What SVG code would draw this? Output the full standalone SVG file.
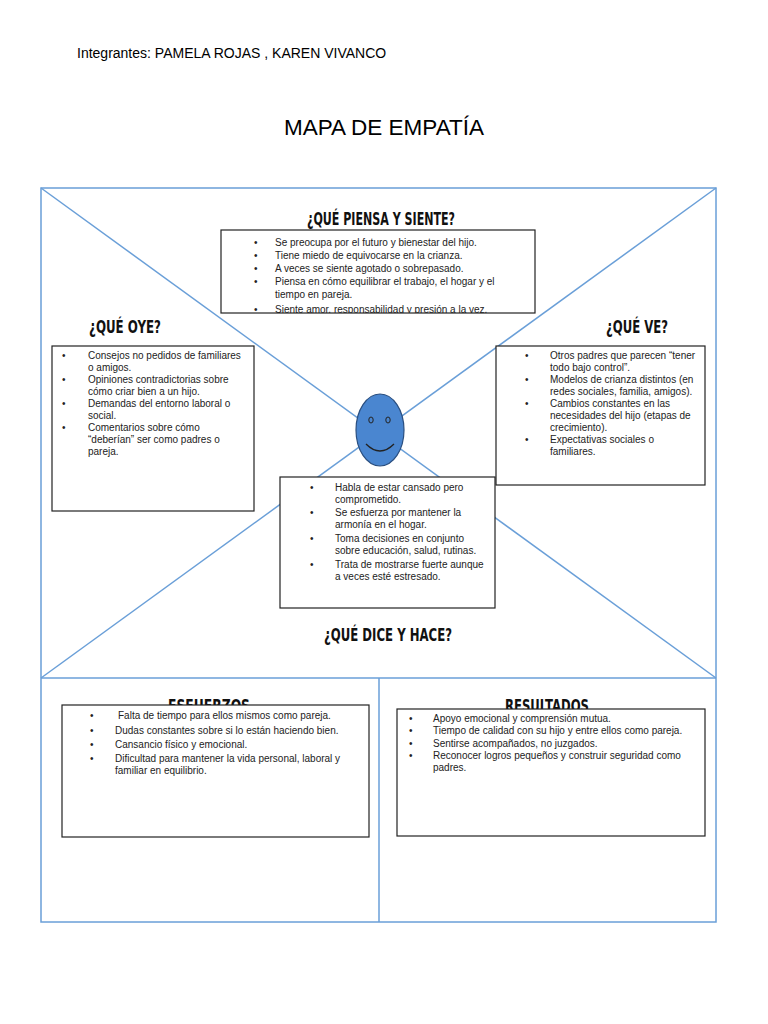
<svg xmlns="http://www.w3.org/2000/svg" width="768" height="1024" viewBox="0 0 768 1024">
<style>
.t{font-family:"Liberation Sans",Arial,sans-serif;fill:#000}
.h{font-family:"DejaVu Sans Condensed","Liberation Sans",sans-serif;font-weight:bold;font-size:18px;fill:#111}
.s{font-family:"Liberation Sans",Arial,sans-serif;font-size:10px;fill:#222}
.b{fill:#fff;stroke:#222;stroke-width:1.2}
.l{stroke:#6a9fd8;stroke-width:1.5;fill:none}
</style>
<defs>
<clipPath id="c1"><rect x="100" y="690" width="220" height="15"/></clipPath>
<clipPath id="c2"><rect x="480" y="690" width="140" height="19"/></clipPath>
</defs>
<rect width="768" height="1024" fill="#fff"/>
<text class="t" x="77" y="58" font-size="14">Integrantes: PAMELA ROJAS , KAREN VIVANCO</text>
<text class="t" x="384" y="135" font-size="22.5" text-anchor="middle">MAPA DE EMPATÍA</text>
<g id="connectors">
<rect class="l" x="41" y="188" width="675" height="734"/>
<line class="l" x1="41" y1="678" x2="716" y2="678"/>
<line class="l" x1="379" y1="678" x2="379" y2="922"/>
<line class="l" x1="41" y1="188" x2="716" y2="678"/>
<line class="l" x1="716" y1="188" x2="41" y2="678"/>
</g>
<g id="headers">
<text class="h" x="381" y="225" text-anchor="middle" textLength="148" lengthAdjust="spacingAndGlyphs">¿QUÉ PIENSA Y SIENTE?</text>
<text class="h" x="125" y="333" text-anchor="middle" textLength="72" lengthAdjust="spacingAndGlyphs">¿QUÉ OYE?</text>
<text class="h" x="637" y="333" text-anchor="middle" textLength="62" lengthAdjust="spacingAndGlyphs">¿QUÉ VE?</text>
<text class="h" x="388" y="641" text-anchor="middle" textLength="128" lengthAdjust="spacingAndGlyphs">¿QUÉ DICE Y HACE?</text>
<text class="h" x="209" y="712" clip-path="url(#c1)" text-anchor="middle" textLength="82" lengthAdjust="spacingAndGlyphs">ESFUERZOS</text>
<text class="h" x="547" y="712" clip-path="url(#c2)" text-anchor="middle" textLength="84" lengthAdjust="spacingAndGlyphs">RESULTADOS</text>
</g>
<g id="face">
<ellipse cx="380" cy="430" rx="24" ry="36" fill="#4a86d0" stroke="#2a4f80" stroke-width="1.2"/>
<ellipse cx="371" cy="420" rx="2.2" ry="3" fill="none" stroke="#222"/>
<ellipse cx="388" cy="420" rx="2.2" ry="3" fill="none" stroke="#222"/>
<path d="M366 444 Q380 458 394 444" fill="none" stroke="#222" stroke-width="1.3"/>
</g>
<g id="piensa">
<rect class="b" x="221" y="230" width="314" height="83"/>
<svg x="221" y="230" width="314" height="83">
<g class="s">
<text x="33" y="16">•</text><text x="54" y="16">Se preocupa por el futuro y bienestar del hijo.</text>
<text x="33" y="29">•</text><text x="54" y="29">Tiene miedo de equivocarse en la crianza.</text>
<text x="33" y="42">•</text><text x="54" y="42">A veces se siente agotado o sobrepasado.</text>
<text x="33" y="55">•</text><text x="54" y="55">Piensa en cómo equilibrar el trabajo, el hogar y el</text>
<text x="54" y="68">tiempo en pareja.</text>
<text x="33" y="83">•</text><text x="54" y="83">Siente amor, responsabilidad y presión a la vez.</text>
</g></svg>
</g>
<g id="oye">
<rect class="b" x="52" y="346" width="202" height="165"/>
<g class="s">
<text x="62" y="359">•</text><text x="88" y="359">Consejos no pedidos de familiares</text>
<text x="88" y="371">o amigos.</text>
<text x="62" y="383">•</text><text x="88" y="383">Opiniones contradictorias sobre</text>
<text x="88" y="395">cómo criar bien a un hijo.</text>
<text x="62" y="407">•</text><text x="88" y="407">Demandas del entorno laboral o</text>
<text x="88" y="419">social.</text>
<text x="62" y="431">•</text><text x="88" y="431">Comentarios sobre cómo</text>
<text x="88" y="443">“deberían” ser como padres o</text>
<text x="88" y="455">pareja.</text>
</g>
</g>
<g id="ve">
<rect class="b" x="496" y="346" width="209" height="139"/>
<g class="s">
<text x="525" y="359">•</text><text x="550" y="359">Otros padres que parecen “tener</text>
<text x="550" y="371">todo bajo control”.</text>
<text x="525" y="383">•</text><text x="550" y="383">Modelos de crianza distintos (en</text>
<text x="550" y="395">redes sociales, familia, amigos).</text>
<text x="525" y="407">•</text><text x="550" y="407">Cambios constantes en las</text>
<text x="550" y="419">necesidades del hijo (etapas de</text>
<text x="550" y="431">crecimiento).</text>
<text x="525" y="443">•</text><text x="550" y="443">Expectativas sociales o</text>
<text x="550" y="455">familiares.</text>
</g>
</g>
<g id="dice">
<rect class="b" x="280" y="477" width="215" height="131"/>
<g class="s">
<text x="310" y="491">•</text><text x="335" y="491">Habla de estar cansado pero</text>
<text x="335" y="503">comprometido.</text>
<text x="310" y="516">•</text><text x="335" y="516">Se esfuerza por mantener la</text>
<text x="335" y="528">armonía en el hogar.</text>
<text x="310" y="542">•</text><text x="335" y="542">Toma decisiones en conjunto</text>
<text x="335" y="554">sobre educación, salud, rutinas.</text>
<text x="310" y="568">•</text><text x="335" y="568">Trata de mostrarse fuerte aunque</text>
<text x="335" y="580">a veces esté estresado.</text>
</g>
</g>
<g id="esfuerzos">
<rect class="b" x="62" y="705" width="307" height="132"/>
<g class="s">
<text x="90" y="719">•</text><text x="118" y="719">Falta de tiempo para ellos mismos como pareja.</text>
<text x="90" y="734">•</text><text x="115" y="734">Dudas constantes sobre si lo están haciendo bien.</text>
<text x="90" y="748">•</text><text x="115" y="748">Cansancio físico y emocional.</text>
<text x="90" y="762">•</text><text x="115" y="762">Dificultad para mantener la vida personal, laboral y</text>
<text x="115" y="774">familiar en equilibrio.</text>
</g>
</g>
<g id="resultados">
<rect class="b" x="397" y="709" width="308" height="127"/>
<g class="s">
<text x="409" y="722">•</text><text x="433" y="722">Apoyo emocional y comprensión mutua.</text>
<text x="409" y="734">•</text><text x="433" y="734">Tiempo de calidad con su hijo y entre ellos como pareja.</text>
<text x="409" y="747">•</text><text x="433" y="747">Sentirse acompañados, no juzgados.</text>
<text x="409" y="759">•</text><text x="433" y="759">Reconocer logros pequeños y construir seguridad como</text>
<text x="433" y="771">padres.</text>
</g>
</g>
</svg>
